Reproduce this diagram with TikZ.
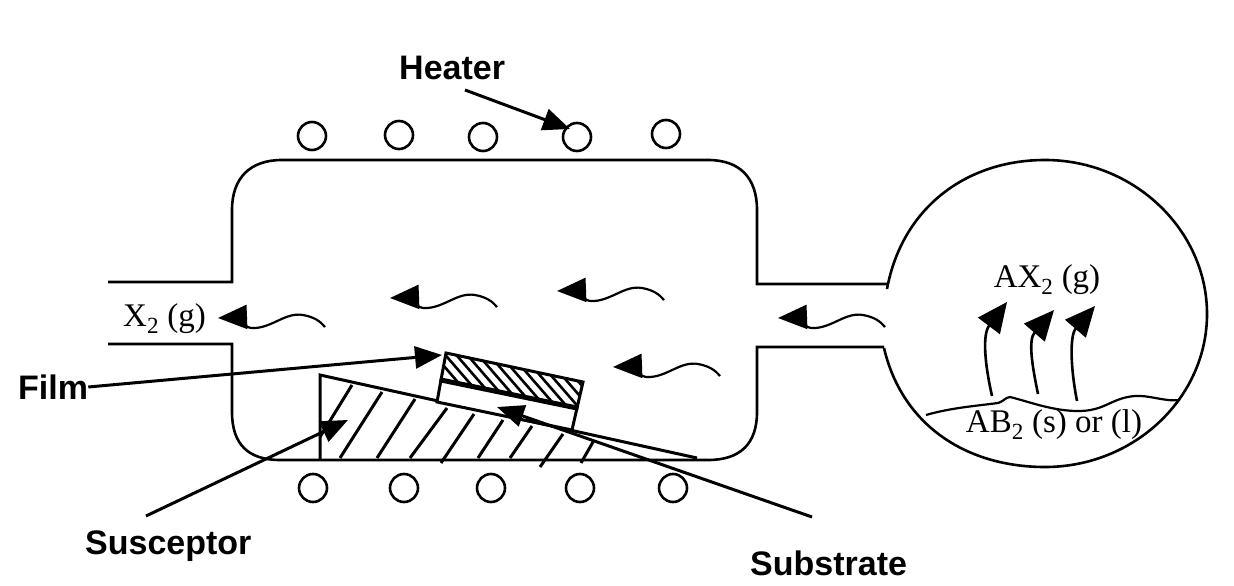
\documentclass[tikz,border=0pt]{standalone}
\usepackage{fontspec}
\setmainfont{Liberation Serif}
\newfontfamily\labelfont{Liberation Sans}
\usetikzlibrary{arrows.meta}

\begin{document}
\begin{tikzpicture}[
        x=1pt, y=-1pt,
        wall/.style={line width=2.6pt, black},
        coil/.style={circle, draw=black, line width=2.6pt, minimum size=28pt, inner sep=0pt},
        tag/.style={font=\labelfont\bfseries\fontsize{34}{36}\selectfont, inner sep=0pt, anchor=west},
        species/.style={font=\fontsize{33}{36}\selectfont, inner sep=0pt},
        arrow/.style={-{Triangle[length=27pt, width=22pt]}, line width=3pt, black},
        flow/.style={{Triangle[length=29pt, width=24pt]}-, line width=2.2pt, black},
        rise/.style={-{Triangle[length=30pt, width=27pt]}, line width=2.6pt, black},
        hatch/.style={line width=3pt, black},
        finehatch/.style={line width=2.6pt, black}
    ]
        \useasboundingbox (0,0) rectangle (1234,586);

        % Labels
        \node[tag] (heater) at (399,68) {Heater};
        \node[tag] (film) at (18,387) {Film};
        \node[tag] (susceptor) at (85,546) {Susceptor};
        \node[tag] (substrate) at (750,563) {Substrate};
        \node[species, anchor=west] (xgas) at (123,319) {X\textsubscript{2} (g)};
        \node[species] (axgas) at (1047,280) {AX\textsubscript{2} (g)};
        \node[species] (source) at (1054,425) {AB\textsubscript{2} (s) or (l)};

        % Heater coils
        \foreach \i/\x/\y in {1/312/136, 2/399/135, 3/483/137, 4/577/137, 5/666/134}
            \node[coil] (top\i) at (\x,\y) {};
        \foreach \i/\x in {1/313, 2/404, 3/491, 4/580, 5/673}
            \node[coil] (bottom\i) at (\x,488) {};

        % Chamber
        \draw[wall] (108,282) -- (232,282) -- (232,210) .. controls (232,178) and (250,160) .. (282,160)
            -- (708,160) .. controls (740,160) and (757,178) .. (757,210) -- (757,284) -- (888,284);
        \draw[wall] (108,344) -- (232,344) -- (232,412) .. controls (232,444) and (248,460) .. (280,460)
            -- (708,460) .. controls (740,460) and (757,444) .. (757,412) -- (757,347) -- (884,347);

        % Source bulb
        \draw[wall] (887,289) .. controls (902,208) and (966,160) .. (1045,160)
            .. controls (1134,160) and (1207,230) .. (1207,314)
            .. controls (1207,398) and (1134,467) .. (1045,467)
            .. controls (966,467) and (902,425) .. (884,348);
        \draw[line width=2.2pt] (926,415) .. controls (950,408) and (975,406) .. (998,403)
            .. controls (1006,400) and (1004,398) .. (1010,397)
            .. controls (1030,402) and (1050,410) .. (1075,411)
            .. controls (1105,412) and (1110,398) .. (1135,396)
            .. controls (1150,395) and (1165,402) .. (1180,400);
        \draw[rise] (992,396) .. controls (985,365) and (982,335) .. (1007,302);
        \draw[rise] (1038,394) .. controls (1032,365) and (1028,340) .. (1054,310);
        \draw[rise] (1077,401) .. controls (1070,365) and (1070,335) .. (1095,306);

        % Susceptor
        \draw[hatch] (697,458) -- (320,375) -- (320,460);
        \draw[hatch] (352,385) -- (320,437);
        \foreach \xa/\ya/\xb/\yb in {382/392/340/458, 415/399/377/458, 447/408/410/458, 474/414/441/463,
                                     503/420/478/458, 532/426/510/458, 563/434/540/467, 593/442/581/463}
            \draw[hatch] (\xa,\ya) -- (\xb,\yb);

        % Substrate and film
        \draw[wall, line width=3pt, fill=white] (441,380) -- (577,408) -- (572,430) -- (437,402) -- cycle;
        \begin{scope}
            \clip (446,353) -- (583,382) -- (577,408) -- (441,380) -- cycle;
            \foreach \x in {430,441,...,600}
                \draw[finehatch] (\x,350) -- (\x+52,410);
        \end{scope}
        \draw[line width=3pt] (446,353) -- (583,382) -- (577,408) -- (441,380) -- cycle;
        \draw[line width=5pt] (441,380) -- (577,408);

        % Label arrows
        \coordinate (filmtip) at (442,355);
        \coordinate (heatertip) at (570,129);
        \coordinate (heatertail) at (465,90);
        \coordinate (susceptortip) at (348,420);
        \coordinate (substratetip) at (497,407);
        \coordinate (substratetail) at (812,517);
        \coordinate (susceptortail) at (146,516);
        \draw[arrow] (film.east) -- (filmtip);
        \draw[arrow] (heatertail) -- (heatertip);
        \draw[arrow] (susceptortail) -- (susceptortip);
        \draw[arrow] (substratetail) -- (substratetip);

        % Gas flow
        \foreach \x/\y in {218/318, 390/298, 557/291, 613/367, 778/318}
            \draw[flow] (\x,\y) .. controls (\x+27,\y-1) and (\x+22,\y+11) .. (\x+37,\y+10)
                .. controls (\x+55,\y+9) and (\x+68,\y-6) .. (\x+85,\y-3)
                .. controls (\x+96,\y-1) and (\x+102,\y+3) .. (\x+107,\y+9);
    \end{tikzpicture}
\end{document}
